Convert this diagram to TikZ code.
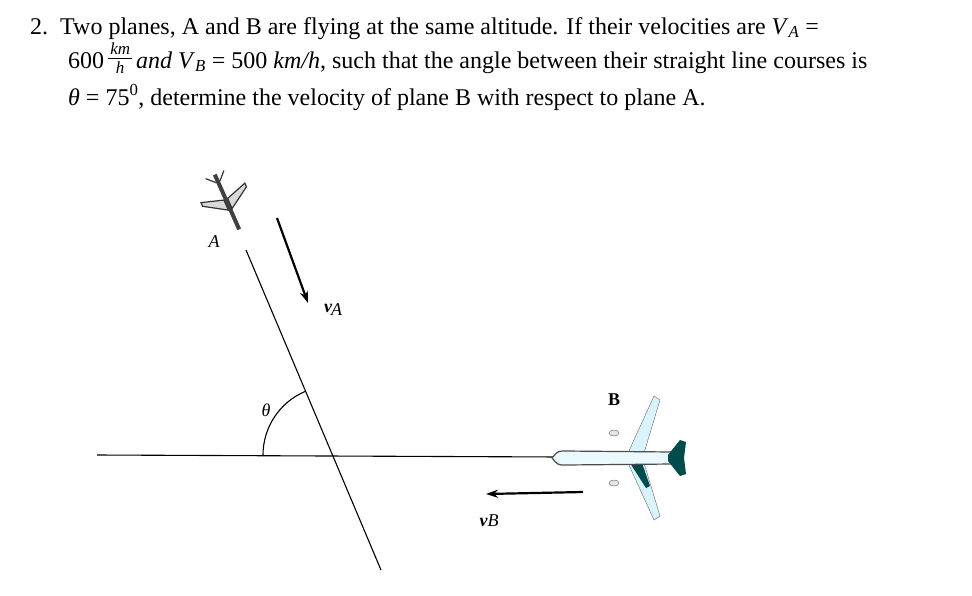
\documentclass[tikz,border=0pt]{standalone}
\usepackage{fontspec}
\setmainfont{Liberation Serif}
\usetikzlibrary{arrows.meta}
\newcommand{\sbi}[1]{\textsubscript{\itshape #1}}
\newcommand{\myfrac}{{\fontsize{17}{17}\selectfont\itshape\raisebox{14pt}{\makebox[24pt]{km}}\kern-24pt\raisebox{9pt}{\rule{24pt}{0.8pt}}\kern-24pt\raisebox{-5pt}{\makebox[24pt]{h}}}}
\begin{document}
\begin{tikzpicture}[x=1pt,y=-1pt,
  txt/.style={anchor=base west,inner sep=0,font=\fontsize{24}{26}\selectfont},
  lbl/.style={inner sep=0,font=\fontsize{18}{18}\selectfont\itshape},
  ln/.style={line width=1.1pt},
  arr/.style={line width=2.2pt,-{Stealth[length=12pt,width=8pt]}}]
\useasboundingbox (0,0) rectangle (972,595);
\node[txt] (t1) at (30,34) {2.\ \ Two planes, A and B are flying at the same altitude. If their velocities are \textit{V}\sbi{A} =};
\node[txt] (t2) at (68,68) {600\,\myfrac\,\textit{and V}\sbi{B} = 500 \textit{km/h}, such that the angle between their straight line courses is};
\node[txt] (t3) at (68,105) {\textit{θ} = 75\textsuperscript{0}, determine the velocity of plane B with respect to plane A.};
% lines
\coordinate (a1) at (246,250);
\coordinate (a2) at (381,570);
\coordinate (h1) at (97,455);
\coordinate (h2) at (560,457);
\draw[ln] (a1) -- (a2);
\draw[ln] (h1) -- (h2);
\draw[ln] (263,455) arc[start angle=180,end angle=247,radius=69];
\node[lbl] (th) at (266,410) {θ};
% velocity arrows
\coordinate (va1) at (277,218);
\coordinate (va2) at (308,303);
\draw[arr] (va1) -- (va2);
\node[lbl] (vA) at (333,310) {\textbf{v}\kern-1pt\raisebox{-3pt}{A}};
\coordinate (vb1) at (583,492);
\coordinate (vb2) at (486,494);
\draw[arr] (vb1) -- (vb2);
\node[lbl] (vB) at (489,521) {\textbf{v}B};
\node[lbl] (A) at (214,242) {A};
\node[lbl,font=\fontsize{18}{18}\selectfont\bfseries] (B) at (614,400) {B};
% plane A
\begin{scope}[shift={(227,202)},rotate=-66]
 \fill[black!75] (-30,-2) rectangle (30,2);
 \draw[black!80,line width=1.2pt,fill=black!15] (8,-2) -- (-6,-24) -- (-10,-24) -- (-3,-2) -- cycle;
 \draw[black!80,line width=1.2pt,fill=black!15] (8,2) -- (-6,24) -- (-10,24) -- (-3,2) -- cycle;
 \draw[black!80,line width=1.2pt] (-22,-2) -- (-30,-10) (-22,2) -- (-30,10);
\end{scope}
% plane B
\begin{scope}[shift={(620,458)}]
 \draw[black!60,fill=cyan!15] (8,-5) -- (34,-62) -- (40,-58) -- (24,-5) -- cycle;
 \draw[black!60,fill=cyan!15] (8,5) -- (34,62) -- (40,58) -- (24,5) -- cycle;
 \fill[teal!60!black] (10,5) -- (26,30) -- (30,28) -- (22,5) -- cycle;
 \draw[black!70,line width=1.2pt,fill=cyan!8] (-68,0) .. controls (-62,-7) .. (-55,-7) -- (52,-6) -- (62,0) -- (52,6) -- (-55,7) .. controls (-62,7) .. (-68,0);
 \fill[teal!60!black] (48,-3) -- (60,-18) -- (66,-16) -- (64,0) -- (66,16) -- (60,18) -- (48,3) -- cycle;
 \draw[black!60,fill=gray!20] (-6,-25) ellipse (5 and 3) (-6,25) ellipse (5 and 3);
\end{scope}
\end{tikzpicture}
\end{document}
